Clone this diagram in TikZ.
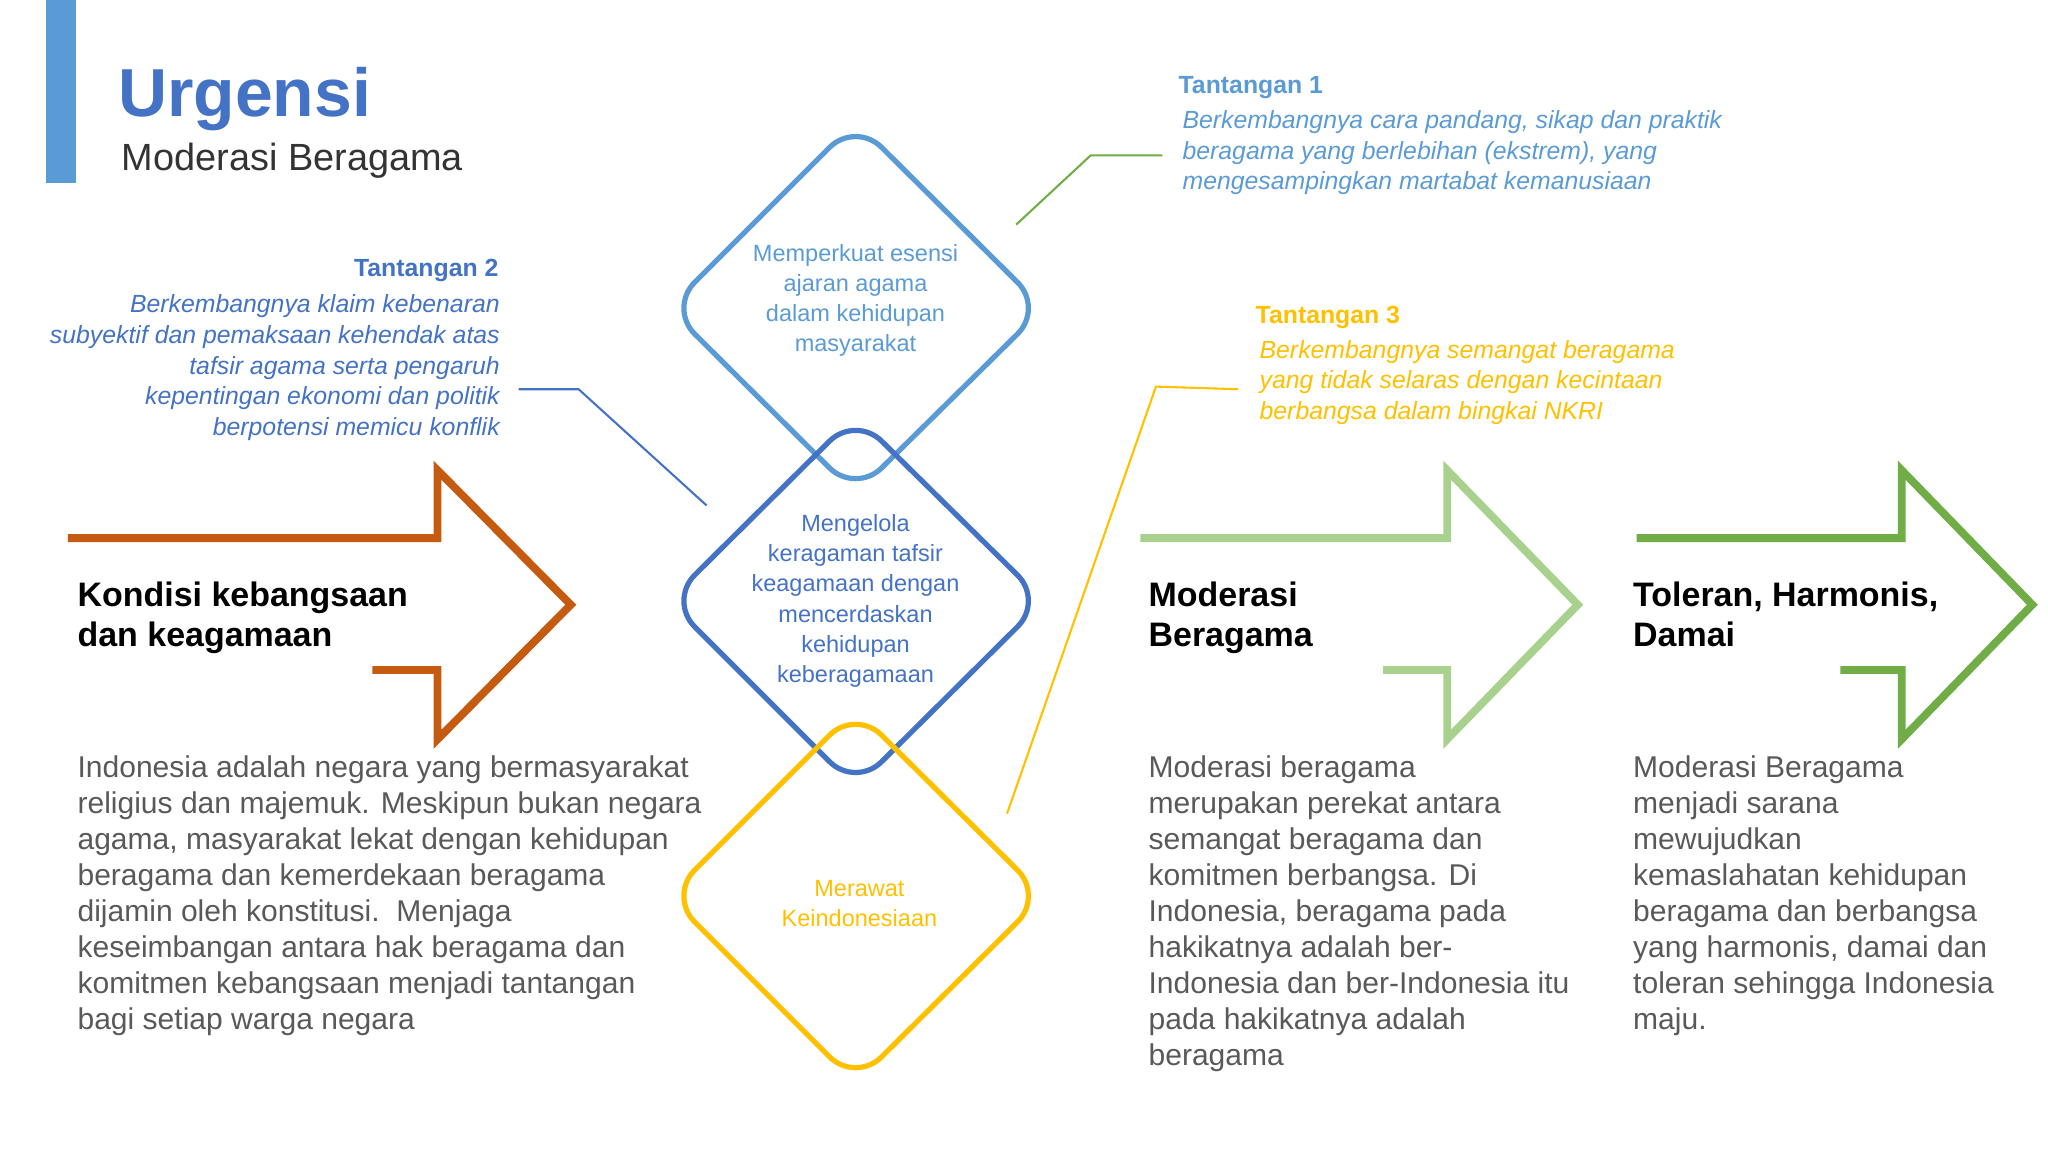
\documentclass[tikz,border=0pt]{standalone}
\usepackage{fontspec}
\setmainfont{Liberation Sans}
\definecolor{tbar}{RGB}{91,155,213}
\definecolor{tblue}{RGB}{68,114,196}
\definecolor{dblue}{RGB}{47,85,151}
\definecolor{tyel}{RGB}{255,192,0}
\definecolor{tora}{RGB}{197,90,17}
\definecolor{lgreen}{RGB}{169,209,142}
\definecolor{dgreen}{RGB}{112,173,71}
\definecolor{gtxt}{RGB}{89,89,89}
\definecolor{lline}{RGB}{112,173,71}
\begin{document}
\begin{tikzpicture}[x=0.5pt,y=-0.5pt,
  body/.style={anchor=north west,inner sep=0,align=left,text=gtxt,font=\fontsize{11.5}{13.8}\selectfont},
  head/.style={anchor=north west,inner sep=0,align=left,text=black,font=\fontsize{13}{15.5}\selectfont\bfseries},
  dtext/.style={inner sep=0,align=center,font=\fontsize{9}{11.6}\selectfont},
  itx/.style={inner sep=0,font=\fontsize{9.5}{11.8}\selectfont\itshape},
  ttl/.style={inner sep=0,font=\fontsize{9.5}{11.8}\selectfont\bfseries},
  arr/.style={line width=3pt},
  dia/.style={line width=2pt,rounded corners=14pt}]
\useasboundingbox (0,0) rectangle (1568,882);
\fill[tbar] (35,0) rectangle (58,140);
\node[anchor=west,inner sep=0,text=tblue,font=\fontsize{26}{30}\selectfont\bfseries] (t1) at (90,76) {Urgensi};
\node[anchor=west,inner sep=0,text=black!80,font=\fontsize{14.5}{17}\selectfont] (t2) at (93,123) {Moderasi Beragama};
% diamonds
\draw[dia,tbar] (655,93) -- (799,236) -- (655,378) -- (512,236) -- cycle;
\draw[dia,tblue] (655,318) -- (799,460) -- (655,603) -- (512,460) -- cycle;
\draw[dia,tyel] (655,543) -- (799,686) -- (655,829) -- (512,686) -- cycle;
\node[dtext,text=tbar] (d1) at (655,230) {Memperkuat esensi\\ajaran agama\\dalam kehidupan\\masyarakat};
\node[dtext,text=tblue] (d2) at (655,460) {Mengelola\\keragaman tafsir\\keagamaan dengan\\mencerdaskan\\kehidupan\\keberagamaan};
\node[dtext,text=tyel] (d3) at (658,692) {Merawat\\Keindonesiaan};
% arrows
\draw[arr,tora] (52,412) -- (335,412) -- (335,360) -- (437,463) -- (335,566) -- (335,513) -- (285,513);
\draw[arr,lgreen] (873,412) -- (1108,412) -- (1108,360) -- (1208,463) -- (1108,566) -- (1108,513) -- (1059,513);
\draw[arr,dgreen] (1253,412) -- (1456,412) -- (1456,360) -- (1556,463) -- (1456,566) -- (1456,513) -- (1409,513);
% challenges
\node[ttl,text=tbar,anchor=west] (c1) at (902,67) {Tantangan 1};
\node[itx,text=tbar,anchor=north west,align=left] (c1t) at (905,84) {Berkembangnya cara pandang, sikap dan praktik\\beragama yang berlebihan (ekstrem), yang\\mengesampingkan martabat kemanusiaan};
\node[ttl,text=tblue,anchor=east] (c2) at (382,207) {Tantangan 2};
\node[itx,text=tblue,anchor=north east,align=right] (c2t) at (383,225) {Berkembangnya klaim kebenaran\\subyektif dan pemaksaan kehendak atas\\tafsir agama serta pengaruh\\kepentingan ekonomi dan politik\\berpotensi memicu konflik};
\node[ttl,text=tyel,anchor=west] (c3) at (961,243) {Tantangan 3};
\node[itx,text=tyel,anchor=north west,align=left] (c3t) at (964,260) {Berkembangnya semangat beragama\\yang tidak selaras dengan kecintaan\\berbangsa dalam bingkai NKRI};
\coordinate (l1a) at (778,172); \coordinate (l1b) at (835,119); \coordinate (l1c) at (890,119);
\draw[lline,line width=0.8pt] (l1a) -- (l1b) -- (l1c);
\coordinate (l2a) at (397,298); \coordinate (l2b) at (443,298); \coordinate (l2c) at (541,387);
\draw[tblue,line width=0.8pt] (l2a) -- (l2b) -- (l2c);
\coordinate (l3a) at (948,298); \coordinate (l3b) at (885,296); \coordinate (l3c) at (771,623);
\draw[tyel,line width=0.8pt] (l3a) -- (l3b) -- (l3c);
% headings
\node[head] (h1) at (59,445) {Kondisi kebangsaan\\dan keagamaan};
\node[head] (h2) at (879,445) {Moderasi\\Beragama};
\node[head] (h3) at (1250,445) {Toleran, Harmonis,\\Damai};
\node[body] (b1) at (59,578) {Indonesia adalah negara yang bermasyarakat\\religius dan majemuk. Meskipun bukan negara\\agama, masyarakat lekat dengan kehidupan\\beragama dan kemerdekaan beragama\\dijamin oleh konstitusi.\ \ Menjaga\\keseimbangan antara hak beragama dan\\komitmen kebangsaan menjadi tantangan\\bagi setiap warga negara};
\node[body] (b2) at (879,578) {Moderasi beragama\\merupakan perekat antara\\semangat beragama dan\\komitmen berbangsa. Di\\Indonesia, beragama pada\\hakikatnya adalah ber-\\Indonesia dan ber-Indonesia itu\\pada hakikatnya adalah\\beragama};
\node[body] (b3) at (1250,578) {Moderasi Beragama\\menjadi sarana\\mewujudkan\\kemaslahatan kehidupan\\beragama dan berbangsa\\yang harmonis, damai dan\\toleran sehingga Indonesia\\maju.};
\end{tikzpicture}
\end{document}
